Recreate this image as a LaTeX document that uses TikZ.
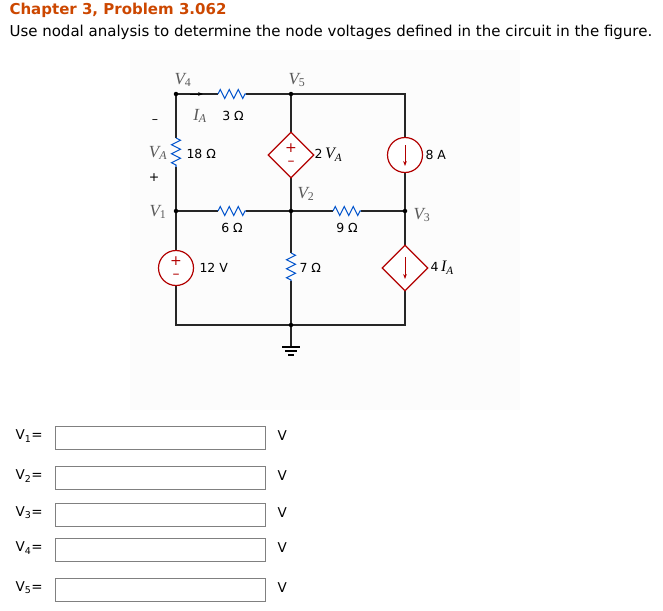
\documentclass[tikz,border=0pt]{standalone}
\usepackage{fontspec}
\setmainfont{DejaVu Sans}
\newfontfamily\ser{Liberation Serif}
\usetikzlibrary{decorations.pathmorphing,shapes.geometric,arrows.meta}
\begin{document}
\begin{tikzpicture}[x=1pt,y=-1pt,
 wire/.style={line width=1.8pt,black!85},
 res/.style={draw=blue!60!cyan!80!black,line width=1.1pt,decorate,decoration={zigzag,amplitude=4.5pt,segment length=9pt}},
 src/.style={circle,draw=red!70!black,fill=white,line width=1.2pt,minimum size=35pt,inner sep=0pt},
 dsrc/.style={diamond,draw=red!70!black,fill=white,line width=1.2pt,minimum size=46pt,inner sep=0pt},
 dot/.style={circle,fill=black,inner sep=0pt,minimum size=4.5pt},
 pm/.style={red!70!black,font=\fontsize{14}{14}\selectfont},
 lbl/.style={font=\fontsize{12.5}{14}\selectfont},
 vl/.style={font=\fontsize{17}{18}\ser\itshape,text=black!65},
 box/.style={draw=gray,line width=0.8pt,minimum width=210pt,minimum height=23pt,inner sep=0pt},
 eq/.style={font=\fontsize{13.5}{15}\selectfont,anchor=west}]
\useasboundingbox (0,0) rectangle (663,610);
\fill[gray!2] (130,50) rectangle (520,410);
\node[anchor=west,font=\bfseries\fontsize{15}{16}\selectfont,text=orange!70!red!80!black] (t) at (6,10) {Chapter 3, Problem 3.062};
\node[anchor=west,font=\fontsize{15}{16}\selectfont] (t2) at (6,32) {Use nodal analysis to determine the node voltages defined in the circuit in the figure.};
% coordinates
\coordinate (n4) at (176,94); \coordinate (n5) at (291,94); \coordinate (tr) at (405,94);
\coordinate (n1) at (176,211); \coordinate (n2) at (291,211); \coordinate (n3) at (405,211);
\coordinate (bl) at (176,325); \coordinate (g) at (291,325); \coordinate (br) at (405,325);
% wires
\draw[wire] (n4) -- (218,94) coordinate (r3a); \draw[wire] (246,94) coordinate (r3b) -- (n5) -- (tr) -- (n3);
\draw[wire] (n4) -- (176,138) coordinate (r18a); \draw[wire] (176,167) coordinate (r18b) -- (n1);
\draw[wire] (n1) -- (218,211) coordinate (r6a); \draw[wire] (246,211) coordinate (r6b) -- (n2) -- (333,211) coordinate (r9a);
\draw[wire] (361,211) coordinate (r9b) -- (n3);
\draw[wire] (n5) -- (n2) -- (291,253) coordinate (r7a); \draw[wire] (291,281) coordinate (r7b) -- (g);
\draw[wire] (n1) -- (bl) -- (g) -- (br) -- (n3);
\draw[wire] (g) -- (291,347) coordinate (gnd);
\draw[line width=1.2pt] (282,347) -- (300,347) (285,351) -- (297,351) (288,355) -- (294,355);
% resistors
\draw[res] (r3a) -- (r3b); \draw[res] (r18a) -- (r18b); \draw[res] (r6a) -- (r6b);
\draw[res] (r9a) -- (r9b); \draw[res] (r7a) -- (r7b);
% sources
\node[dsrc] (dv) at (291,155) {}; \node[pm] at (291,148) {+}; \node[pm] at (291,163) {--};
\node[src] (i8) at (405,155) {}; \draw[-{Stealth[length=5pt]},red!70!black,line width=1pt] (405,145) -- (405,166);
\node[src] (v12) at (176,268) {}; \node[pm] at (176,261) {+}; \node[pm] at (176,276) {--};
\node[dsrc] (di) at (405,268) {}; \draw[-{Stealth[length=5pt]},red!70!black,line width=1pt] (405,257) -- (405,279);
% IA arrow
\draw[-{Stealth[length=5pt]},line width=1pt] (190,94) -- (203,94);
% dots
\foreach \p in {n4,n5,n1,n2,n3,g} \node[dot] at (\p) {};
% labels
\node[vl] (l4) at (183,80) {V\textsubscript{\upshape 4}};
\node[vl] (l5) at (297,80) {V\textsubscript{\upshape 5}};
\node[vl] (l1) at (158,212) {V\textsubscript{\upshape 1}};
\node[vl] (l2) at (306,194) {V\textsubscript{\upshape 2}};
\node[vl] (l3) at (422,215) {V\textsubscript{\upshape 3}};
\node[vl] (la) at (158,153) {V\textsubscript{A}};
\node[vl] (lia) at (200,116) {I\textsubscript{A}};
\node[lbl] at (155,122) {--}; \node[lbl] at (154,178) {+};
\node[lbl] (o3) at (233,116) {3 Ω};
\node[lbl,anchor=west] (o18) at (183,154) {18 Ω};
\node[lbl] (o6) at (232,228) {6 Ω};
\node[lbl] (o9) at (347,228) {9 Ω};
\node[lbl,anchor=west] (o7) at (296,268) {7 Ω};
\node[lbl,anchor=west] (o12) at (196,268) {12 V};
\node[lbl,anchor=west] (o8) at (422,155) {8 A};
\node[lbl,anchor=west] (o2v) at (311,155) {2{\ser\itshape\fontsize{16}{16}\selectfont\,V\textsubscript{A}}};
\node[lbl,anchor=west] (o4i) at (427,268) {4{\ser\itshape\fontsize{16}{16}\selectfont\,I\textsubscript{A}}};
% answer form
\foreach \i/\y in {1/436,2/476,3/513,4/548,5/588}{
 \node[eq] (e\i) at (12,\y) {V\textsubscript{\i}=};
 \node[box] (b\i) at (160,\y+2) {};
 \node[eq] (u\i) at (274,\y) {V};
}
\end{tikzpicture}
\end{document}
